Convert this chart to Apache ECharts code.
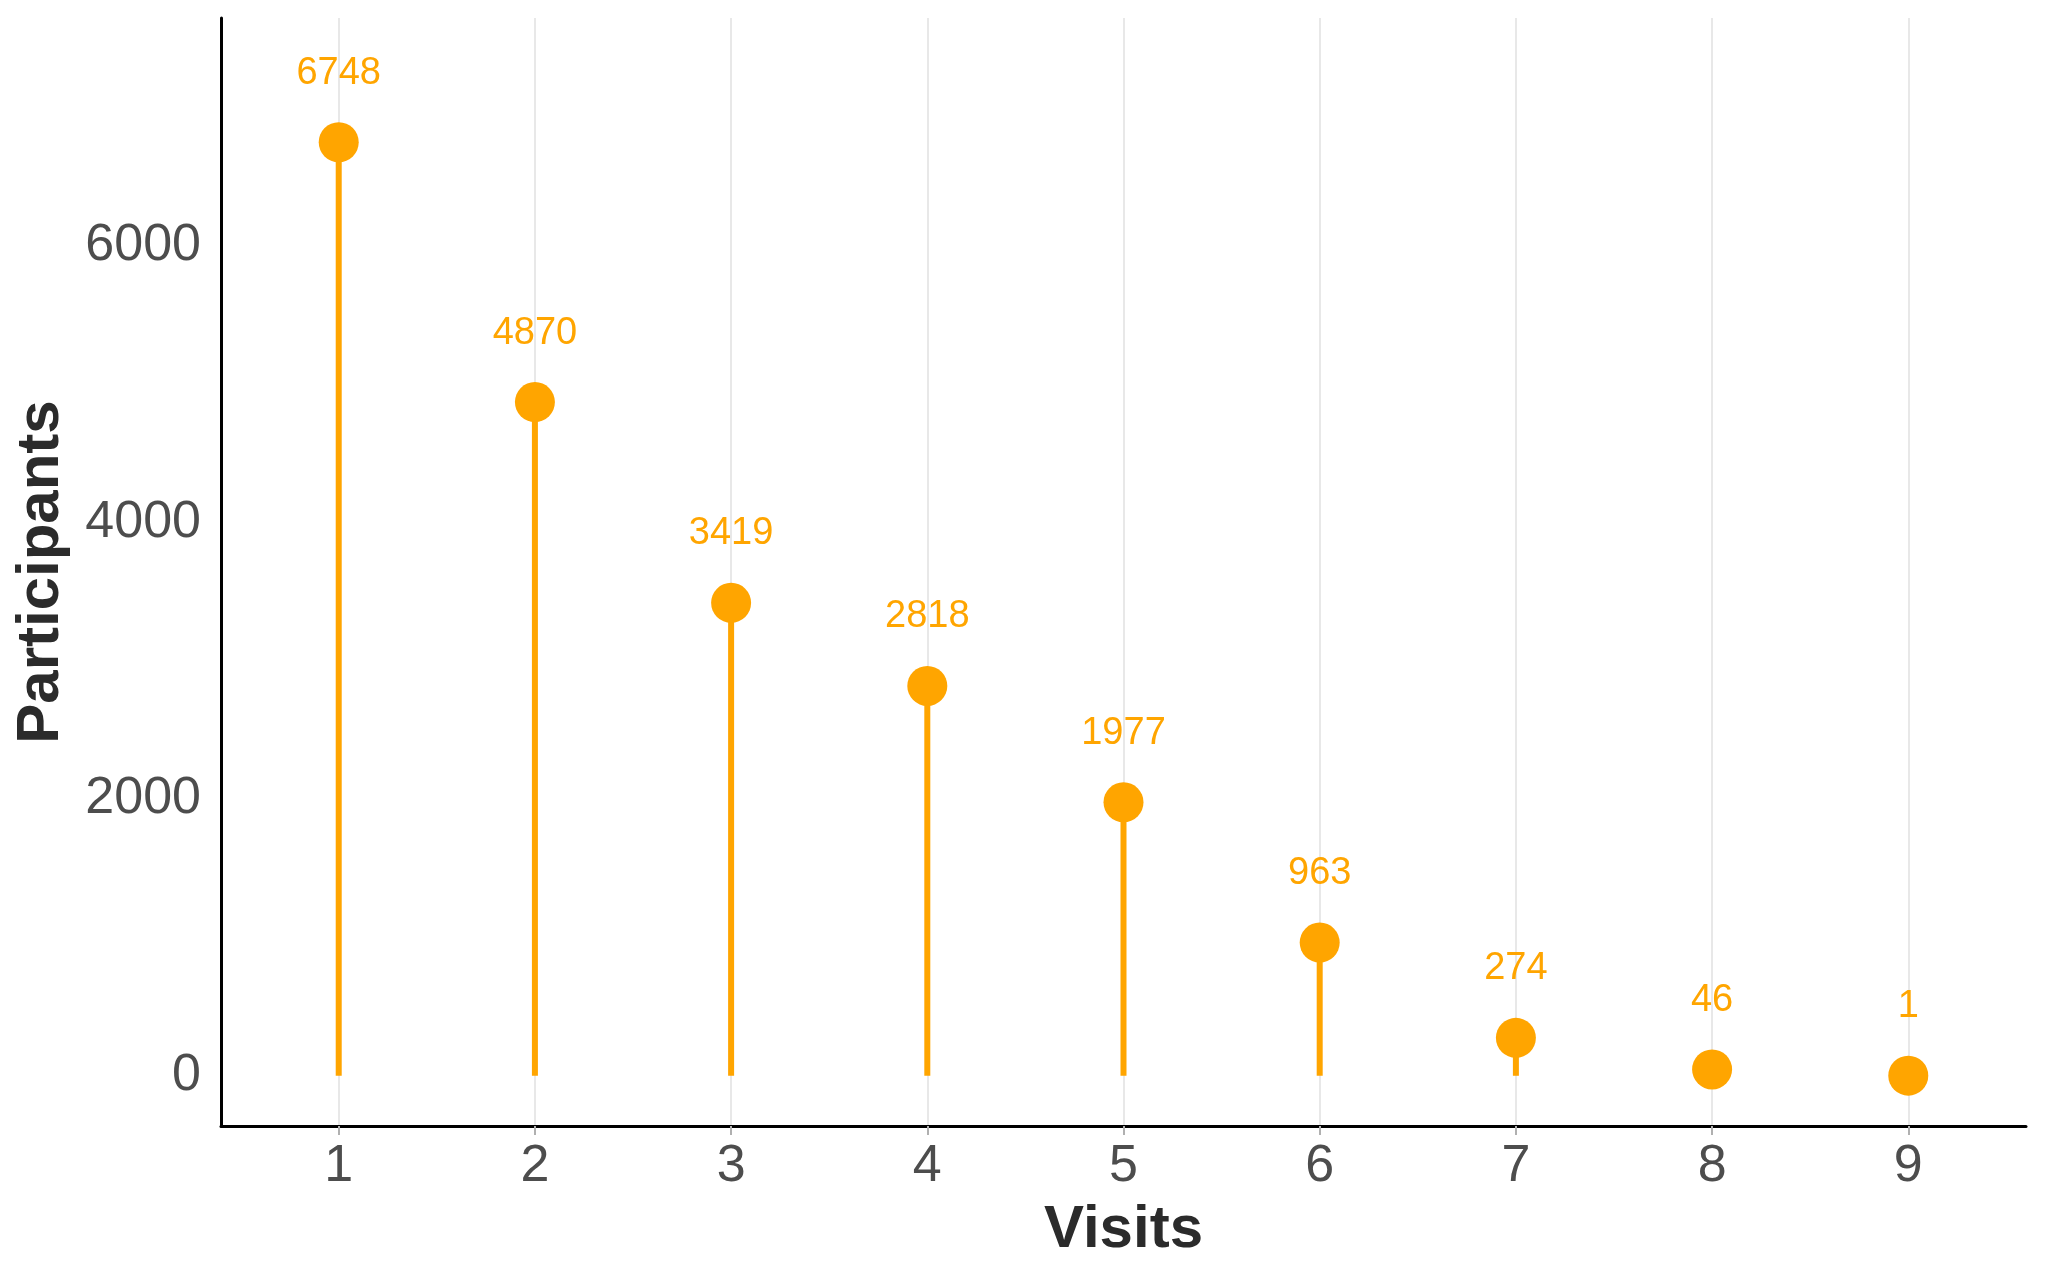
<!DOCTYPE html>
<html>
<head>
<meta charset="utf-8">
<script src="https://cdn.jsdelivr.net/npm/echarts@6/dist/echarts.min.js"></script>
<style>
html,body{margin:0;padding:0;background:#fff;}
#chart{width:2048px;height:1280px;}
</style>
</head>
<body>
<div id="chart"></div>
<script>
const visits = [1, 2, 3, 4, 5, 6, 7, 8, 9];
const participants = [6748, 4870, 3419, 2818, 1977, 963, 274, 46, 1];
const yTicks = [0, 2000, 4000, 6000];

const pts = visits.map((v, i) => [v, participants[i]]);
const ORANGE = '#FFA500';
const FONT = 'Liberation Sans, Arial, sans-serif';

const chart = echarts.init(document.getElementById('chart'), null, {renderer: 'canvas'});
chart.setOption({
  animation: false,
  backgroundColor: '#ffffff',
  grid: {left: 221, right: 22, top: 18, bottom: 154, containLabel: false},
  xAxis: {
    type: 'value', min: 0.4, max: 9.6,
    name: 'Visits', nameLocation: 'middle', nameGap: 74,
    nameTextStyle: {fontFamily: FONT, fontSize: 60, fontWeight: 'bold', color: '#2b2b2b'},
    axisLine: {show: true, onZero: false, lineStyle: {color: '#000', width: 3}},
    axisTick: {show: true, customValues: visits, length: 9, lineStyle: {color: '#b0b0b0', width: 2}},
    axisLabel: {customValues: visits, margin: 15, fontFamily: FONT, fontSize: 52, color: '#4d4d4d',
      formatter: v => String(v)},
    splitLine: {show: true, customValues: visits, lineStyle: {color: '#e0e0e0', width: 1.5}}
  },
  yAxis: {
    type: 'value', min: -363, max: 7646,
    name: 'Participants', nameLocation: 'middle', nameGap: 150, nameRotate: 90,
    nameTextStyle: {fontFamily: FONT, fontSize: 60, fontWeight: 'bold', color: '#2b2b2b'},
    axisLine: {show: true, onZero: false, lineStyle: {color: '#000', width: 3}},
    axisTick: {show: false},
    axisLabel: {customValues: yTicks, margin: 20, fontFamily: FONT, fontSize: 52, color: '#4d4d4d',
      formatter: v => String(v)},
    splitLine: {show: false}
  },
  series: [
    {
      type: 'bar', data: pts, barWidth: 6, silent: true,
      itemStyle: {color: ORANGE}
    },
    {
      type: 'scatter', data: pts, symbol: 'circle', symbolSize: 40, silent: true,
      itemStyle: {color: ORANGE, opacity: 1},
      label: {show: true, position: 'top', distance: 30, formatter: p => String(p.value[1]),
        fontFamily: FONT, fontSize: 38, color: ORANGE}
    }
  ]
});
</script>
</body>
</html>
